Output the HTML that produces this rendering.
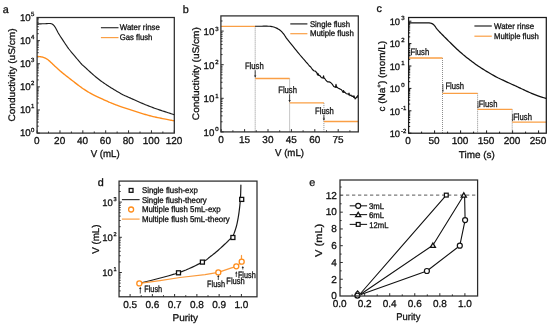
<!DOCTYPE html>
<html><head><meta charset="utf-8"><style>
html,body{margin:0;padding:0;background:#fff;width:550px;height:326px;overflow:hidden;}
svg{filter:blur(0.3px);}
text{font-family:"Liberation Sans", sans-serif;text-rendering:geometricPrecision;stroke:#111;stroke-width:0.3px;}
</style></head><body>
<svg width="550" height="326" viewBox="0 0 550 326" style="display:block">
<g font-family='"Liberation Sans", sans-serif'>
<text x="2.80" y="12.50" font-size="10.8" text-anchor="start" fill="#111" >a</text>
<line x1="37.10" y1="133.10" x2="37.10" y2="130.30" stroke="#2b2b2b" stroke-width="1.0" />
<line x1="48.53" y1="133.10" x2="48.53" y2="131.50" stroke="#2b2b2b" stroke-width="1.0" />
<line x1="59.97" y1="133.10" x2="59.97" y2="130.30" stroke="#2b2b2b" stroke-width="1.0" />
<line x1="71.40" y1="133.10" x2="71.40" y2="131.50" stroke="#2b2b2b" stroke-width="1.0" />
<line x1="82.83" y1="133.10" x2="82.83" y2="130.30" stroke="#2b2b2b" stroke-width="1.0" />
<line x1="94.27" y1="133.10" x2="94.27" y2="131.50" stroke="#2b2b2b" stroke-width="1.0" />
<line x1="105.70" y1="133.10" x2="105.70" y2="130.30" stroke="#2b2b2b" stroke-width="1.0" />
<line x1="117.13" y1="133.10" x2="117.13" y2="131.50" stroke="#2b2b2b" stroke-width="1.0" />
<line x1="128.57" y1="133.10" x2="128.57" y2="130.30" stroke="#2b2b2b" stroke-width="1.0" />
<line x1="140.00" y1="133.10" x2="140.00" y2="131.50" stroke="#2b2b2b" stroke-width="1.0" />
<line x1="151.43" y1="133.10" x2="151.43" y2="130.30" stroke="#2b2b2b" stroke-width="1.0" />
<line x1="162.87" y1="133.10" x2="162.87" y2="131.50" stroke="#2b2b2b" stroke-width="1.0" />
<line x1="174.30" y1="133.10" x2="174.30" y2="130.30" stroke="#2b2b2b" stroke-width="1.0" />
<line x1="37.10" y1="133.10" x2="39.90" y2="133.10" stroke="#2b2b2b" stroke-width="1.0" />
<line x1="37.10" y1="126.14" x2="38.70" y2="126.14" stroke="#2b2b2b" stroke-width="1.0" />
<line x1="37.10" y1="122.07" x2="38.70" y2="122.07" stroke="#2b2b2b" stroke-width="1.0" />
<line x1="37.10" y1="119.18" x2="38.70" y2="119.18" stroke="#2b2b2b" stroke-width="1.0" />
<line x1="37.10" y1="116.94" x2="38.70" y2="116.94" stroke="#2b2b2b" stroke-width="1.0" />
<line x1="37.10" y1="115.11" x2="38.70" y2="115.11" stroke="#2b2b2b" stroke-width="1.0" />
<line x1="37.10" y1="113.56" x2="38.70" y2="113.56" stroke="#2b2b2b" stroke-width="1.0" />
<line x1="37.10" y1="112.22" x2="38.70" y2="112.22" stroke="#2b2b2b" stroke-width="1.0" />
<line x1="37.10" y1="111.04" x2="38.70" y2="111.04" stroke="#2b2b2b" stroke-width="1.0" />
<line x1="37.10" y1="109.98" x2="39.90" y2="109.98" stroke="#2b2b2b" stroke-width="1.0" />
<line x1="37.10" y1="103.02" x2="38.70" y2="103.02" stroke="#2b2b2b" stroke-width="1.0" />
<line x1="37.10" y1="98.95" x2="38.70" y2="98.95" stroke="#2b2b2b" stroke-width="1.0" />
<line x1="37.10" y1="96.06" x2="38.70" y2="96.06" stroke="#2b2b2b" stroke-width="1.0" />
<line x1="37.10" y1="93.82" x2="38.70" y2="93.82" stroke="#2b2b2b" stroke-width="1.0" />
<line x1="37.10" y1="91.99" x2="38.70" y2="91.99" stroke="#2b2b2b" stroke-width="1.0" />
<line x1="37.10" y1="90.44" x2="38.70" y2="90.44" stroke="#2b2b2b" stroke-width="1.0" />
<line x1="37.10" y1="89.10" x2="38.70" y2="89.10" stroke="#2b2b2b" stroke-width="1.0" />
<line x1="37.10" y1="87.92" x2="38.70" y2="87.92" stroke="#2b2b2b" stroke-width="1.0" />
<line x1="37.10" y1="86.86" x2="39.90" y2="86.86" stroke="#2b2b2b" stroke-width="1.0" />
<line x1="37.10" y1="79.90" x2="38.70" y2="79.90" stroke="#2b2b2b" stroke-width="1.0" />
<line x1="37.10" y1="75.83" x2="38.70" y2="75.83" stroke="#2b2b2b" stroke-width="1.0" />
<line x1="37.10" y1="72.94" x2="38.70" y2="72.94" stroke="#2b2b2b" stroke-width="1.0" />
<line x1="37.10" y1="70.70" x2="38.70" y2="70.70" stroke="#2b2b2b" stroke-width="1.0" />
<line x1="37.10" y1="68.87" x2="38.70" y2="68.87" stroke="#2b2b2b" stroke-width="1.0" />
<line x1="37.10" y1="67.32" x2="38.70" y2="67.32" stroke="#2b2b2b" stroke-width="1.0" />
<line x1="37.10" y1="65.98" x2="38.70" y2="65.98" stroke="#2b2b2b" stroke-width="1.0" />
<line x1="37.10" y1="64.80" x2="38.70" y2="64.80" stroke="#2b2b2b" stroke-width="1.0" />
<line x1="37.10" y1="63.74" x2="39.90" y2="63.74" stroke="#2b2b2b" stroke-width="1.0" />
<line x1="37.10" y1="56.78" x2="38.70" y2="56.78" stroke="#2b2b2b" stroke-width="1.0" />
<line x1="37.10" y1="52.71" x2="38.70" y2="52.71" stroke="#2b2b2b" stroke-width="1.0" />
<line x1="37.10" y1="49.82" x2="38.70" y2="49.82" stroke="#2b2b2b" stroke-width="1.0" />
<line x1="37.10" y1="47.58" x2="38.70" y2="47.58" stroke="#2b2b2b" stroke-width="1.0" />
<line x1="37.10" y1="45.75" x2="38.70" y2="45.75" stroke="#2b2b2b" stroke-width="1.0" />
<line x1="37.10" y1="44.20" x2="38.70" y2="44.20" stroke="#2b2b2b" stroke-width="1.0" />
<line x1="37.10" y1="42.86" x2="38.70" y2="42.86" stroke="#2b2b2b" stroke-width="1.0" />
<line x1="37.10" y1="41.68" x2="38.70" y2="41.68" stroke="#2b2b2b" stroke-width="1.0" />
<line x1="37.10" y1="40.62" x2="39.90" y2="40.62" stroke="#2b2b2b" stroke-width="1.0" />
<line x1="37.10" y1="33.66" x2="38.70" y2="33.66" stroke="#2b2b2b" stroke-width="1.0" />
<line x1="37.10" y1="29.59" x2="38.70" y2="29.59" stroke="#2b2b2b" stroke-width="1.0" />
<line x1="37.10" y1="26.70" x2="38.70" y2="26.70" stroke="#2b2b2b" stroke-width="1.0" />
<line x1="37.10" y1="24.46" x2="38.70" y2="24.46" stroke="#2b2b2b" stroke-width="1.0" />
<line x1="37.10" y1="22.63" x2="38.70" y2="22.63" stroke="#2b2b2b" stroke-width="1.0" />
<line x1="37.10" y1="21.08" x2="38.70" y2="21.08" stroke="#2b2b2b" stroke-width="1.0" />
<line x1="37.10" y1="19.74" x2="38.70" y2="19.74" stroke="#2b2b2b" stroke-width="1.0" />
<line x1="37.10" y1="18.56" x2="38.70" y2="18.56" stroke="#2b2b2b" stroke-width="1.0" />
<text x="36.80" y="143.90" font-size="10" text-anchor="middle" fill="#111" >0</text>
<text x="59.67" y="143.90" font-size="10" text-anchor="middle" fill="#111" >20</text>
<text x="82.53" y="143.90" font-size="10" text-anchor="middle" fill="#111" >40</text>
<text x="105.40" y="143.90" font-size="10" text-anchor="middle" fill="#111" >60</text>
<text x="128.27" y="143.90" font-size="10" text-anchor="middle" fill="#111" >80</text>
<text x="151.13" y="143.90" font-size="10" text-anchor="middle" fill="#111" >100</text>
<text x="174.00" y="143.90" font-size="10" text-anchor="middle" fill="#111" >120</text>
<text x="30.70" y="136.20" font-size="9.7" text-anchor="end" fill="#111">10</text>
<text x="31.00" y="131.55" font-size="6.0" text-anchor="start" fill="#111">0</text>
<text x="30.70" y="113.08" font-size="9.7" text-anchor="end" fill="#111">10</text>
<text x="31.00" y="108.43" font-size="6.0" text-anchor="start" fill="#111">1</text>
<text x="30.70" y="89.96" font-size="9.7" text-anchor="end" fill="#111">10</text>
<text x="31.00" y="85.31" font-size="6.0" text-anchor="start" fill="#111">2</text>
<text x="30.70" y="66.84" font-size="9.7" text-anchor="end" fill="#111">10</text>
<text x="31.00" y="62.19" font-size="6.0" text-anchor="start" fill="#111">3</text>
<text x="30.70" y="43.72" font-size="9.7" text-anchor="end" fill="#111">10</text>
<text x="31.00" y="39.07" font-size="6.0" text-anchor="start" fill="#111">4</text>
<text x="30.70" y="20.60" font-size="9.7" text-anchor="end" fill="#111">10</text>
<text x="31.00" y="15.95" font-size="6.0" text-anchor="start" fill="#111">5</text>
<text x="0.00" y="0.00" font-size="9.5" text-anchor="middle" fill="#111" textLength="93.1" lengthAdjust="spacingAndGlyphs" transform="translate(15.1,75.0) rotate(-90)">Conductivity (uS/cm)</text>
<text x="105.20" y="157.00" font-size="9.8" text-anchor="middle" fill="#111" textLength="29.0" lengthAdjust="spacingAndGlyphs" >V (mL)</text>
<polyline points="37.60,23.90 38.19,23.88 38.99,23.86 39.94,23.84 40.99,23.81 42.08,23.78 43.15,23.75 44.14,23.73 45.00,23.70 45.75,23.67 46.47,23.62 47.15,23.57 47.79,23.53 48.39,23.49 48.96,23.47 49.50,23.47 50.00,23.50 50.46,23.55 50.86,23.62 51.22,23.69 51.55,23.79 51.86,23.92 52.17,24.07 52.47,24.27 52.80,24.50 53.13,24.77 53.45,25.05 53.75,25.37 54.06,25.72 54.38,26.11 54.70,26.55 55.04,27.05 55.40,27.60 55.78,28.22 56.16,28.92 56.55,29.67 56.95,30.46 57.37,31.29 57.82,32.15 58.29,33.02 58.80,33.90 59.35,34.80 59.94,35.73 60.55,36.70 61.19,37.68 61.85,38.67 62.51,39.66 63.16,40.64 63.80,41.60 64.42,42.53 65.03,43.45 65.63,44.37 66.24,45.27 66.87,46.19 67.51,47.11 68.19,48.04 68.90,49.00 69.67,49.99 70.48,51.00 71.33,52.04 72.20,53.08 73.08,54.12 73.94,55.14 74.79,56.14 75.60,57.10 76.39,58.05 77.19,59.00 77.98,59.94 78.75,60.86 79.50,61.74 80.21,62.56 80.88,63.32 81.50,64.00 82.02,64.55 82.45,64.97 82.80,65.30 83.14,65.59 83.49,65.88 83.89,66.21 84.38,66.64 85.00,67.20 85.76,67.91 86.63,68.72 87.58,69.62 88.59,70.56 89.64,71.53 90.68,72.50 91.71,73.43 92.70,74.30 93.65,75.12 94.60,75.93 95.55,76.73 96.50,77.51 97.45,78.28 98.40,79.03 99.35,79.77 100.30,80.50 101.26,81.21 102.22,81.90 103.18,82.58 104.14,83.24 105.11,83.89 106.07,84.53 107.04,85.17 108.00,85.80 108.96,86.43 109.93,87.05 110.89,87.66 111.86,88.26 112.82,88.86 113.78,89.45 114.74,90.03 115.70,90.60 116.66,91.17 117.63,91.74 118.60,92.31 119.56,92.86 120.52,93.40 121.47,93.93 122.39,94.43 123.30,94.90 124.14,95.32 124.91,95.68 125.63,96.01 126.36,96.33 127.12,96.65 127.95,97.00 128.90,97.41 130.00,97.90 131.27,98.47 132.68,99.12 134.21,99.81 135.81,100.54 137.45,101.28 139.10,102.02 140.73,102.73 142.30,103.40 143.83,104.04 145.35,104.67 146.88,105.28 148.40,105.89 149.92,106.48 151.45,107.07 152.97,107.64 154.50,108.20 156.07,108.76 157.69,109.32 159.33,109.87 160.96,110.41 162.56,110.93 164.08,111.42 165.51,111.88 166.80,112.30 167.99,112.69 169.13,113.06 170.19,113.40 171.17,113.71 172.05,113.99 172.83,114.23 173.48,114.43 174.00,114.60" fill="none" stroke="#1e1e1e" stroke-width="1.15" stroke-linejoin="round" stroke-linecap="round" />
<polyline points="37.60,56.40 37.99,56.45 38.51,56.50 39.13,56.56 39.82,56.64 40.55,56.73 41.29,56.85 42.02,57.01 42.70,57.20 43.34,57.41 43.97,57.63 44.60,57.88 45.24,58.15 45.89,58.47 46.56,58.84 47.26,59.28 48.00,59.80 48.78,60.42 49.59,61.12 50.44,61.90 51.30,62.74 52.18,63.60 53.08,64.48 53.99,65.35 54.90,66.20 55.81,67.03 56.73,67.86 57.66,68.70 58.61,69.55 59.57,70.40 60.55,71.26 61.56,72.13 62.60,73.00 63.69,73.89 64.83,74.80 66.00,75.72 67.19,76.65 68.39,77.57 69.56,78.47 70.71,79.35 71.80,80.20 72.85,81.02 73.89,81.83 74.90,82.62 75.89,83.39 76.86,84.13 77.80,84.85 78.72,85.54 79.60,86.20 80.44,86.81 81.24,87.39 82.00,87.93 82.74,88.44 83.47,88.94 84.20,89.43 84.94,89.91 85.70,90.40 86.46,90.88 87.21,91.35 87.96,91.81 88.71,92.26 89.48,92.71 90.28,93.17 91.12,93.63 92.00,94.10 92.93,94.58 93.90,95.07 94.90,95.56 95.94,96.06 97.00,96.56 98.08,97.06 99.18,97.58 100.30,98.10 101.46,98.64 102.67,99.20 103.91,99.78 105.17,100.36 106.43,100.93 107.66,101.48 108.86,102.01 110.00,102.50 111.05,102.94 112.03,103.34 112.95,103.71 113.86,104.07 114.78,104.42 115.76,104.79 116.82,105.17 118.00,105.60 119.31,106.07 120.71,106.56 122.19,107.07 123.73,107.60 125.30,108.13 126.89,108.67 128.46,109.19 130.00,109.70 131.52,110.20 133.06,110.70 134.59,111.20 136.14,111.70 137.68,112.19 139.23,112.67 140.77,113.14 142.30,113.60 143.83,114.05 145.35,114.49 146.88,114.92 148.40,115.34 149.92,115.75 151.45,116.15 152.97,116.53 154.50,116.90 156.07,117.26 157.69,117.61 159.33,117.94 160.96,118.27 162.56,118.58 164.08,118.87 165.51,119.15 166.80,119.40 167.99,119.64 169.13,119.86 170.19,120.07 171.17,120.26 172.05,120.43 172.83,120.57 173.48,120.70 174.00,120.80" fill="none" stroke="#ff8c1a" stroke-width="1.35" stroke-linejoin="round" stroke-linecap="round" />
<rect x="37.10" y="17.50" width="137.20" height="115.60" fill="none" stroke="#2b2b2b" stroke-width="1.25"/>
<line x1="100.90" y1="27.70" x2="118.50" y2="27.70" stroke="#333" stroke-width="1.2" />
<text x="119.80" y="30.30" font-size="8.3" text-anchor="start" fill="#111" textLength="40.1" lengthAdjust="spacingAndGlyphs" >Water rinse</text>
<line x1="100.90" y1="37.60" x2="118.50" y2="37.60" stroke="#fa9f45" stroke-width="1.2" />
<text x="119.80" y="40.30" font-size="8.3" text-anchor="start" fill="#111" textLength="32.5" lengthAdjust="spacingAndGlyphs" >Gas flush</text>
<text x="182.80" y="12.60" font-size="10.8" text-anchor="start" fill="#111" >b</text>
<line x1="221.20" y1="131.90" x2="221.20" y2="129.10" stroke="#2b2b2b" stroke-width="1.0" />
<line x1="232.90" y1="131.90" x2="232.90" y2="130.30" stroke="#2b2b2b" stroke-width="1.0" />
<line x1="244.60" y1="131.90" x2="244.60" y2="129.10" stroke="#2b2b2b" stroke-width="1.0" />
<line x1="256.30" y1="131.90" x2="256.30" y2="130.30" stroke="#2b2b2b" stroke-width="1.0" />
<line x1="268.00" y1="131.90" x2="268.00" y2="129.10" stroke="#2b2b2b" stroke-width="1.0" />
<line x1="279.70" y1="131.90" x2="279.70" y2="130.30" stroke="#2b2b2b" stroke-width="1.0" />
<line x1="291.40" y1="131.90" x2="291.40" y2="129.10" stroke="#2b2b2b" stroke-width="1.0" />
<line x1="303.10" y1="131.90" x2="303.10" y2="130.30" stroke="#2b2b2b" stroke-width="1.0" />
<line x1="314.80" y1="131.90" x2="314.80" y2="129.10" stroke="#2b2b2b" stroke-width="1.0" />
<line x1="326.50" y1="131.90" x2="326.50" y2="130.30" stroke="#2b2b2b" stroke-width="1.0" />
<line x1="338.20" y1="131.90" x2="338.20" y2="129.10" stroke="#2b2b2b" stroke-width="1.0" />
<line x1="349.90" y1="131.90" x2="349.90" y2="130.30" stroke="#2b2b2b" stroke-width="1.0" />
<line x1="220.90" y1="131.90" x2="223.70" y2="131.90" stroke="#2b2b2b" stroke-width="1.0" />
<line x1="220.90" y1="121.79" x2="222.50" y2="121.79" stroke="#2b2b2b" stroke-width="1.0" />
<line x1="220.90" y1="115.87" x2="222.50" y2="115.87" stroke="#2b2b2b" stroke-width="1.0" />
<line x1="220.90" y1="111.67" x2="222.50" y2="111.67" stroke="#2b2b2b" stroke-width="1.0" />
<line x1="220.90" y1="108.41" x2="222.50" y2="108.41" stroke="#2b2b2b" stroke-width="1.0" />
<line x1="220.90" y1="105.75" x2="222.50" y2="105.75" stroke="#2b2b2b" stroke-width="1.0" />
<line x1="220.90" y1="103.50" x2="222.50" y2="103.50" stroke="#2b2b2b" stroke-width="1.0" />
<line x1="220.90" y1="101.56" x2="222.50" y2="101.56" stroke="#2b2b2b" stroke-width="1.0" />
<line x1="220.90" y1="99.84" x2="222.50" y2="99.84" stroke="#2b2b2b" stroke-width="1.0" />
<line x1="220.90" y1="98.30" x2="223.70" y2="98.30" stroke="#2b2b2b" stroke-width="1.0" />
<line x1="220.90" y1="88.19" x2="222.50" y2="88.19" stroke="#2b2b2b" stroke-width="1.0" />
<line x1="220.90" y1="82.27" x2="222.50" y2="82.27" stroke="#2b2b2b" stroke-width="1.0" />
<line x1="220.90" y1="78.07" x2="222.50" y2="78.07" stroke="#2b2b2b" stroke-width="1.0" />
<line x1="220.90" y1="74.81" x2="222.50" y2="74.81" stroke="#2b2b2b" stroke-width="1.0" />
<line x1="220.90" y1="72.15" x2="222.50" y2="72.15" stroke="#2b2b2b" stroke-width="1.0" />
<line x1="220.90" y1="69.90" x2="222.50" y2="69.90" stroke="#2b2b2b" stroke-width="1.0" />
<line x1="220.90" y1="67.96" x2="222.50" y2="67.96" stroke="#2b2b2b" stroke-width="1.0" />
<line x1="220.90" y1="66.24" x2="222.50" y2="66.24" stroke="#2b2b2b" stroke-width="1.0" />
<line x1="220.90" y1="64.70" x2="223.70" y2="64.70" stroke="#2b2b2b" stroke-width="1.0" />
<line x1="220.90" y1="54.59" x2="222.50" y2="54.59" stroke="#2b2b2b" stroke-width="1.0" />
<line x1="220.90" y1="48.67" x2="222.50" y2="48.67" stroke="#2b2b2b" stroke-width="1.0" />
<line x1="220.90" y1="44.47" x2="222.50" y2="44.47" stroke="#2b2b2b" stroke-width="1.0" />
<line x1="220.90" y1="41.21" x2="222.50" y2="41.21" stroke="#2b2b2b" stroke-width="1.0" />
<line x1="220.90" y1="38.55" x2="222.50" y2="38.55" stroke="#2b2b2b" stroke-width="1.0" />
<line x1="220.90" y1="36.30" x2="222.50" y2="36.30" stroke="#2b2b2b" stroke-width="1.0" />
<line x1="220.90" y1="34.36" x2="222.50" y2="34.36" stroke="#2b2b2b" stroke-width="1.0" />
<line x1="220.90" y1="32.64" x2="222.50" y2="32.64" stroke="#2b2b2b" stroke-width="1.0" />
<line x1="220.90" y1="31.10" x2="223.70" y2="31.10" stroke="#2b2b2b" stroke-width="1.0" />
<line x1="220.90" y1="20.99" x2="222.50" y2="20.99" stroke="#2b2b2b" stroke-width="1.0" />
<text x="221.10" y="143.10" font-size="10" text-anchor="middle" fill="#111" >0</text>
<text x="244.50" y="143.10" font-size="10" text-anchor="middle" fill="#111" >15</text>
<text x="267.90" y="143.10" font-size="10" text-anchor="middle" fill="#111" >30</text>
<text x="291.30" y="143.10" font-size="10" text-anchor="middle" fill="#111" >45</text>
<text x="314.70" y="143.10" font-size="10" text-anchor="middle" fill="#111" >60</text>
<text x="338.10" y="143.10" font-size="10" text-anchor="middle" fill="#111" >75</text>
<text x="214.30" y="135.80" font-size="9.7" text-anchor="end" fill="#111">10</text>
<text x="215.20" y="131.40" font-size="6.0" text-anchor="start" fill="#111">0</text>
<text x="214.30" y="102.20" font-size="9.7" text-anchor="end" fill="#111">10</text>
<text x="215.20" y="97.80" font-size="6.0" text-anchor="start" fill="#111">1</text>
<text x="214.30" y="68.60" font-size="9.7" text-anchor="end" fill="#111">10</text>
<text x="215.20" y="64.20" font-size="6.0" text-anchor="start" fill="#111">2</text>
<text x="214.30" y="35.00" font-size="9.7" text-anchor="end" fill="#111">10</text>
<text x="215.20" y="30.60" font-size="6.0" text-anchor="start" fill="#111">3</text>
<text x="0.00" y="0.00" font-size="9.5" text-anchor="middle" fill="#111" textLength="93.0" lengthAdjust="spacingAndGlyphs" transform="translate(199.1,73.65) rotate(-90)">Conductivity (uS/cm)</text>
<text x="289.50" y="156.00" font-size="9.8" text-anchor="middle" fill="#111" textLength="29.0" lengthAdjust="spacingAndGlyphs" >V (mL)</text>
<line x1="255.20" y1="26.40" x2="255.20" y2="131.90" stroke="#707070" stroke-width="0.8" stroke-dasharray="1,1"/>
<line x1="289.60" y1="78.50" x2="289.60" y2="131.90" stroke="#707070" stroke-width="0.8" stroke-dasharray="1,1"/>
<line x1="323.90" y1="102.90" x2="323.90" y2="131.90" stroke="#707070" stroke-width="0.8" stroke-dasharray="1,1"/>
<polyline points="255.20,26.30 256.11,26.28 257.39,26.26 258.89,26.23 260.47,26.21 262.00,26.20 263.53,26.19 265.15,26.18 266.78,26.19 268.32,26.22 269.70,26.30 270.86,26.42 271.86,26.56 272.77,26.75 273.66,26.99 274.60,27.30 275.60,27.68 276.61,28.12 277.61,28.63 278.58,29.19 279.50,29.80 280.34,30.46 281.13,31.17 281.88,31.94 282.63,32.78 283.40,33.70 284.15,34.68 284.86,35.72 285.59,36.84 286.42,38.06 287.40,39.40 288.60,40.93 289.97,42.62 291.42,44.40 292.86,46.15 294.20,47.80 295.39,49.29 296.50,50.69 297.59,52.06 298.73,53.48 300.00,55.00 301.42,56.67 302.95,58.42 304.54,60.15 306.14,62.18 307.70,63.74 309.22,65.73 310.74,67.04 312.26,69.24 313.78,70.74 315.30,71.14 316.83,72.74 317.50,74.84 318.00,73.54 318.60,74.94 318.37,75.12 319.92,75.61 321.46,77.77 323.00,77.79 323.00,78.25 323.50,75.75 324.10,78.35 324.54,78.28 326.08,80.48 327.63,81.84 329.17,81.88 330.70,82.57 332.22,84.14 333.74,86.49 335.26,87.15 335.50,87.34 336.00,84.44 336.60,87.44 336.78,86.92 338.30,88.19 339.86,88.89 341.45,89.79 343.04,92.21 343.00,92.40 343.50,90.50 344.10,92.50 344.57,91.86 346.00,93.42 347.35,93.90 348.66,94.02 348.50,94.78 349.00,93.08 349.60,94.88 349.88,95.66 351.01,94.98 352.00,96.49 352.83,95.93 353.50,97.03 353.50,97.34 354.00,95.84 354.60,97.44 354.08,97.05 354.63,97.45 355.20,98.94 355.83,98.39 356.48,96.91 357.10,97.48 357.63,95.58 358.00,95.59" fill="none" stroke="#111" stroke-width="1.15" stroke-linejoin="round" stroke-linecap="round" />
<line x1="220.90" y1="26.40" x2="255.20" y2="26.40" stroke="#fa9f45" stroke-width="1.35" />
<line x1="255.20" y1="78.50" x2="289.60" y2="78.50" stroke="#fa9f45" stroke-width="1.35" />
<line x1="289.60" y1="102.90" x2="323.90" y2="102.90" stroke="#fa9f45" stroke-width="1.35" />
<line x1="323.90" y1="121.50" x2="358.30" y2="121.50" stroke="#fa9f45" stroke-width="1.35" />
<text x="254.30" y="68.60" font-size="9.3" text-anchor="middle" fill="#111" textLength="18.8" lengthAdjust="spacingAndGlyphs" >Flush</text>
<line x1="255.20" y1="70.30" x2="255.20" y2="76.04" stroke="#222" stroke-width="0.8" />
<path d="M254.05,75.60 L256.35,75.60 L255.20,77.80 Z" fill="#222"/>
<text x="287.60" y="92.90" font-size="9.3" text-anchor="middle" fill="#111" textLength="18.8" lengthAdjust="spacingAndGlyphs" >Flush</text>
<line x1="289.60" y1="94.30" x2="289.60" y2="100.44" stroke="#222" stroke-width="0.8" />
<path d="M288.45,100.00 L290.75,100.00 L289.60,102.20 Z" fill="#222"/>
<text x="324.40" y="114.00" font-size="9.3" text-anchor="middle" fill="#111" textLength="18.8" lengthAdjust="spacingAndGlyphs" >Flush</text>
<line x1="323.90" y1="115.30" x2="323.90" y2="119.04" stroke="#222" stroke-width="0.8" />
<path d="M322.75,118.60 L325.05,118.60 L323.90,120.80 Z" fill="#222"/>
<rect x="220.90" y="15.90" width="137.40" height="116.00" fill="none" stroke="#2b2b2b" stroke-width="1.25"/>
<line x1="290.30" y1="23.90" x2="307.40" y2="23.90" stroke="#333" stroke-width="1.3" />
<text x="309.90" y="26.80" font-size="8.3" text-anchor="start" fill="#111" textLength="40.2" lengthAdjust="spacingAndGlyphs" >Single flush</text>
<line x1="290.30" y1="33.70" x2="307.40" y2="33.70" stroke="#fa9f45" stroke-width="1.2" />
<text x="309.90" y="36.30" font-size="8.3" text-anchor="start" fill="#111" textLength="44" lengthAdjust="spacingAndGlyphs" >Mutiple flush</text>
<text x="376.60" y="11.80" font-size="10.8" text-anchor="start" fill="#111" >c</text>
<line x1="408.60" y1="133.20" x2="408.60" y2="130.40" stroke="#111" stroke-width="1.0" />
<line x1="421.60" y1="133.20" x2="421.60" y2="131.60" stroke="#111" stroke-width="1.0" />
<line x1="434.60" y1="133.20" x2="434.60" y2="130.40" stroke="#111" stroke-width="1.0" />
<line x1="447.60" y1="133.20" x2="447.60" y2="131.60" stroke="#111" stroke-width="1.0" />
<line x1="460.60" y1="133.20" x2="460.60" y2="130.40" stroke="#111" stroke-width="1.0" />
<line x1="473.60" y1="133.20" x2="473.60" y2="131.60" stroke="#111" stroke-width="1.0" />
<line x1="486.60" y1="133.20" x2="486.60" y2="130.40" stroke="#111" stroke-width="1.0" />
<line x1="499.60" y1="133.20" x2="499.60" y2="131.60" stroke="#111" stroke-width="1.0" />
<line x1="512.60" y1="133.20" x2="512.60" y2="130.40" stroke="#111" stroke-width="1.0" />
<line x1="525.60" y1="133.20" x2="525.60" y2="131.60" stroke="#111" stroke-width="1.0" />
<line x1="538.60" y1="133.20" x2="538.60" y2="130.40" stroke="#111" stroke-width="1.0" />
<line x1="408.60" y1="133.20" x2="411.40" y2="133.20" stroke="#111" stroke-width="1.0" />
<line x1="408.60" y1="126.46" x2="410.20" y2="126.46" stroke="#111" stroke-width="1.0" />
<line x1="408.60" y1="122.51" x2="410.20" y2="122.51" stroke="#111" stroke-width="1.0" />
<line x1="408.60" y1="119.71" x2="410.20" y2="119.71" stroke="#111" stroke-width="1.0" />
<line x1="408.60" y1="117.54" x2="410.20" y2="117.54" stroke="#111" stroke-width="1.0" />
<line x1="408.60" y1="115.77" x2="410.20" y2="115.77" stroke="#111" stroke-width="1.0" />
<line x1="408.60" y1="114.27" x2="410.20" y2="114.27" stroke="#111" stroke-width="1.0" />
<line x1="408.60" y1="112.97" x2="410.20" y2="112.97" stroke="#111" stroke-width="1.0" />
<line x1="408.60" y1="111.82" x2="410.20" y2="111.82" stroke="#111" stroke-width="1.0" />
<line x1="408.60" y1="110.80" x2="411.40" y2="110.80" stroke="#111" stroke-width="1.0" />
<line x1="408.60" y1="104.06" x2="410.20" y2="104.06" stroke="#111" stroke-width="1.0" />
<line x1="408.60" y1="100.11" x2="410.20" y2="100.11" stroke="#111" stroke-width="1.0" />
<line x1="408.60" y1="97.31" x2="410.20" y2="97.31" stroke="#111" stroke-width="1.0" />
<line x1="408.60" y1="95.14" x2="410.20" y2="95.14" stroke="#111" stroke-width="1.0" />
<line x1="408.60" y1="93.37" x2="410.20" y2="93.37" stroke="#111" stroke-width="1.0" />
<line x1="408.60" y1="91.87" x2="410.20" y2="91.87" stroke="#111" stroke-width="1.0" />
<line x1="408.60" y1="90.57" x2="410.20" y2="90.57" stroke="#111" stroke-width="1.0" />
<line x1="408.60" y1="89.42" x2="410.20" y2="89.42" stroke="#111" stroke-width="1.0" />
<line x1="408.60" y1="88.40" x2="411.40" y2="88.40" stroke="#111" stroke-width="1.0" />
<line x1="408.60" y1="81.66" x2="410.20" y2="81.66" stroke="#111" stroke-width="1.0" />
<line x1="408.60" y1="77.71" x2="410.20" y2="77.71" stroke="#111" stroke-width="1.0" />
<line x1="408.60" y1="74.91" x2="410.20" y2="74.91" stroke="#111" stroke-width="1.0" />
<line x1="408.60" y1="72.74" x2="410.20" y2="72.74" stroke="#111" stroke-width="1.0" />
<line x1="408.60" y1="70.97" x2="410.20" y2="70.97" stroke="#111" stroke-width="1.0" />
<line x1="408.60" y1="69.47" x2="410.20" y2="69.47" stroke="#111" stroke-width="1.0" />
<line x1="408.60" y1="68.17" x2="410.20" y2="68.17" stroke="#111" stroke-width="1.0" />
<line x1="408.60" y1="67.02" x2="410.20" y2="67.02" stroke="#111" stroke-width="1.0" />
<line x1="408.60" y1="66.00" x2="411.40" y2="66.00" stroke="#111" stroke-width="1.0" />
<line x1="408.60" y1="59.26" x2="410.20" y2="59.26" stroke="#111" stroke-width="1.0" />
<line x1="408.60" y1="55.31" x2="410.20" y2="55.31" stroke="#111" stroke-width="1.0" />
<line x1="408.60" y1="52.51" x2="410.20" y2="52.51" stroke="#111" stroke-width="1.0" />
<line x1="408.60" y1="50.34" x2="410.20" y2="50.34" stroke="#111" stroke-width="1.0" />
<line x1="408.60" y1="48.57" x2="410.20" y2="48.57" stroke="#111" stroke-width="1.0" />
<line x1="408.60" y1="47.07" x2="410.20" y2="47.07" stroke="#111" stroke-width="1.0" />
<line x1="408.60" y1="45.77" x2="410.20" y2="45.77" stroke="#111" stroke-width="1.0" />
<line x1="408.60" y1="44.62" x2="410.20" y2="44.62" stroke="#111" stroke-width="1.0" />
<line x1="408.60" y1="43.60" x2="411.40" y2="43.60" stroke="#111" stroke-width="1.0" />
<line x1="408.60" y1="36.86" x2="410.20" y2="36.86" stroke="#111" stroke-width="1.0" />
<line x1="408.60" y1="32.91" x2="410.20" y2="32.91" stroke="#111" stroke-width="1.0" />
<line x1="408.60" y1="30.11" x2="410.20" y2="30.11" stroke="#111" stroke-width="1.0" />
<line x1="408.60" y1="27.94" x2="410.20" y2="27.94" stroke="#111" stroke-width="1.0" />
<line x1="408.60" y1="26.17" x2="410.20" y2="26.17" stroke="#111" stroke-width="1.0" />
<line x1="408.60" y1="24.67" x2="410.20" y2="24.67" stroke="#111" stroke-width="1.0" />
<line x1="408.60" y1="23.37" x2="410.20" y2="23.37" stroke="#111" stroke-width="1.0" />
<line x1="408.60" y1="22.22" x2="410.20" y2="22.22" stroke="#111" stroke-width="1.0" />
<line x1="408.60" y1="21.20" x2="411.40" y2="21.20" stroke="#111" stroke-width="1.0" />
<text x="408.10" y="143.60" font-size="10" text-anchor="middle" fill="#111" >0</text>
<text x="434.10" y="143.60" font-size="10" text-anchor="middle" fill="#111" >50</text>
<text x="460.10" y="143.60" font-size="10" text-anchor="middle" fill="#111" >100</text>
<text x="486.10" y="143.60" font-size="10" text-anchor="middle" fill="#111" >150</text>
<text x="512.10" y="143.60" font-size="10" text-anchor="middle" fill="#111" >200</text>
<text x="538.10" y="143.60" font-size="10" text-anchor="middle" fill="#111" >250</text>
<text x="400.10" y="24.70" font-size="9.4" text-anchor="end" fill="#111">10</text>
<text x="401.30" y="20.00" font-size="6.0" text-anchor="start" fill="#111">3</text>
<text x="400.10" y="47.10" font-size="9.4" text-anchor="end" fill="#111">10</text>
<text x="401.30" y="42.40" font-size="6.0" text-anchor="start" fill="#111">2</text>
<text x="400.10" y="69.50" font-size="9.4" text-anchor="end" fill="#111">10</text>
<text x="401.30" y="64.80" font-size="6.0" text-anchor="start" fill="#111">1</text>
<text x="400.10" y="91.90" font-size="9.4" text-anchor="end" fill="#111">10</text>
<text x="401.30" y="87.20" font-size="6.0" text-anchor="start" fill="#111">0</text>
<text x="400.10" y="115.00" font-size="9.4" text-anchor="end" fill="#111">10</text>
<text x="401.10" y="110.20" font-size="6.0" text-anchor="start" fill="#111">-1</text>
<text x="400.10" y="137.40" font-size="9.4" text-anchor="end" fill="#111">10</text>
<text x="401.10" y="132.60" font-size="6.0" text-anchor="start" fill="#111">-2</text>
<text transform="translate(385.2,76.2) rotate(-90)" font-size="9.5" text-anchor="middle" fill="#111" textLength="70.6" lengthAdjust="spacingAndGlyphs">c (Na<tspan font-size="6" dy="-4">+</tspan><tspan dy="4">) (mom/L)</tspan></text>
<text x="476.80" y="157.60" font-size="9.8" text-anchor="middle" fill="#111" textLength="36.0" lengthAdjust="spacingAndGlyphs" >Time (s)</text>
<line x1="442.50" y1="58.00" x2="442.50" y2="133.20" stroke="#707070" stroke-width="0.8" stroke-dasharray="1,1"/>
<line x1="477.60" y1="93.30" x2="477.60" y2="133.20" stroke="#707070" stroke-width="0.8" stroke-dasharray="1,1"/>
<line x1="512.20" y1="109.40" x2="512.20" y2="133.20" stroke="#707070" stroke-width="0.8" stroke-dasharray="1,1"/>
<polyline points="409.20,22.80 410.40,22.80 412.09,22.80 414.07,22.79 416.17,22.79 418.21,22.79 420.00,22.80 421.61,22.80 423.19,22.80 424.71,22.81 426.12,22.82 427.40,22.85 428.50,22.90 429.38,22.97 430.07,23.04 430.62,23.13 431.09,23.25 431.53,23.40 432.00,23.60 432.47,23.84 432.90,24.10 433.29,24.41 433.68,24.75 434.08,25.15 434.50,25.60 434.91,26.10 435.29,26.64 435.68,27.23 436.11,27.87 436.64,28.60 437.30,29.40 438.13,30.32 439.09,31.35 440.14,32.46 441.24,33.59 442.35,34.72 443.40,35.80 444.40,36.82 445.38,37.81 446.36,38.79 447.36,39.79 448.40,40.82 449.50,41.90 450.67,43.06 451.90,44.28 453.17,45.53 454.46,46.79 455.75,48.02 457.00,49.20 458.24,50.33 459.47,51.44 460.70,52.53 461.92,53.59 463.12,54.61 464.30,55.60 465.44,56.53 466.55,57.41 467.64,58.26 468.74,59.10 469.85,59.94 471.00,60.80 472.18,61.69 473.37,62.59 474.58,63.49 475.82,64.39 477.09,65.30 478.40,66.20 479.75,67.10 481.13,67.99 482.55,68.89 484.00,69.79 485.48,70.69 487.00,71.60 488.57,72.54 490.20,73.50 491.86,74.46 493.53,75.41 495.19,76.33 496.80,77.20 498.37,78.01 499.91,78.76 501.44,79.49 502.96,80.19 504.47,80.89 506.00,81.60 507.55,82.32 509.13,83.04 510.71,83.76 512.26,84.46 513.77,85.14 515.20,85.80 516.55,86.42 517.82,87.02 519.05,87.59 520.26,88.16 521.46,88.72 522.70,89.30 523.96,89.89 525.22,90.49 526.49,91.08 527.76,91.67 529.03,92.25 530.30,92.80 531.57,93.33 532.85,93.85 534.12,94.36 535.41,94.85 536.70,95.33 538.00,95.80 539.41,96.29 540.94,96.79 542.48,97.29 543.91,97.74 545.13,98.12 546.00,98.40" fill="none" stroke="#111" stroke-width="1.25" stroke-linejoin="round" stroke-linecap="round" />
<line x1="408.60" y1="58.00" x2="442.50" y2="58.00" stroke="#fa9f45" stroke-width="1.35" />
<line x1="442.50" y1="93.30" x2="477.60" y2="93.30" stroke="#fa9f45" stroke-width="1.35" />
<line x1="477.60" y1="109.40" x2="512.20" y2="109.40" stroke="#fa9f45" stroke-width="1.35" />
<line x1="512.20" y1="122.10" x2="546.30" y2="122.10" stroke="#fa9f45" stroke-width="1.35" />
<text x="410.50" y="55.20" font-size="9.3" text-anchor="start" fill="#111" textLength="18.7" lengthAdjust="spacingAndGlyphs" >Flush</text>
<text x="445.40" y="89.00" font-size="9.3" text-anchor="start" fill="#111" textLength="18.7" lengthAdjust="spacingAndGlyphs" >Flush</text>
<text x="478.70" y="107.40" font-size="9.3" text-anchor="start" fill="#111" textLength="18.7" lengthAdjust="spacingAndGlyphs" >Flush</text>
<text x="513.20" y="120.00" font-size="9.3" text-anchor="start" fill="#111" textLength="18.7" lengthAdjust="spacingAndGlyphs" >Flush</text>
<line x1="409.80" y1="50.50" x2="409.80" y2="55.56" stroke="#222" stroke-width="0.7" />
<path d="M408.90,55.20 L410.70,55.20 L409.80,57.00 Z" fill="#222"/>
<line x1="442.90" y1="84.00" x2="442.90" y2="90.76" stroke="#222" stroke-width="0.7" />
<path d="M442.00,90.40 L443.80,90.40 L442.90,92.20 Z" fill="#222"/>
<line x1="478.00" y1="101.00" x2="478.00" y2="107.06" stroke="#222" stroke-width="0.7" />
<path d="M477.10,106.70 L478.90,106.70 L478.00,108.50 Z" fill="#222"/>
<line x1="512.60" y1="114.00" x2="512.60" y2="119.76" stroke="#222" stroke-width="0.7" />
<path d="M511.70,119.40 L513.50,119.40 L512.60,121.20 Z" fill="#222"/>
<rect x="408.60" y="17.50" width="137.70" height="115.70" fill="none" stroke="#1a1a1a" stroke-width="1.25"/>
<line x1="474.40" y1="26.00" x2="491.80" y2="26.00" stroke="#333" stroke-width="1.3" />
<text x="494.00" y="29.00" font-size="8.3" text-anchor="start" fill="#111" textLength="40.2" lengthAdjust="spacingAndGlyphs" >Water rinse</text>
<line x1="474.40" y1="36.20" x2="491.80" y2="36.20" stroke="#fa9f45" stroke-width="1.2" />
<text x="494.00" y="39.00" font-size="8.3" text-anchor="start" fill="#111" textLength="44.8" lengthAdjust="spacingAndGlyphs" >Multiple flush</text>
<text x="97.80" y="185.70" font-size="10.8" text-anchor="start" fill="#111" >d</text>
<line x1="130.10" y1="296.80" x2="130.10" y2="294.00" stroke="#2b2b2b" stroke-width="1.0" />
<line x1="141.23" y1="296.80" x2="141.23" y2="295.20" stroke="#2b2b2b" stroke-width="1.0" />
<line x1="152.36" y1="296.80" x2="152.36" y2="294.00" stroke="#2b2b2b" stroke-width="1.0" />
<line x1="163.49" y1="296.80" x2="163.49" y2="295.20" stroke="#2b2b2b" stroke-width="1.0" />
<line x1="174.62" y1="296.80" x2="174.62" y2="294.00" stroke="#2b2b2b" stroke-width="1.0" />
<line x1="185.75" y1="296.80" x2="185.75" y2="295.20" stroke="#2b2b2b" stroke-width="1.0" />
<line x1="196.88" y1="296.80" x2="196.88" y2="294.00" stroke="#2b2b2b" stroke-width="1.0" />
<line x1="208.01" y1="296.80" x2="208.01" y2="295.20" stroke="#2b2b2b" stroke-width="1.0" />
<line x1="219.14" y1="296.80" x2="219.14" y2="294.00" stroke="#2b2b2b" stroke-width="1.0" />
<line x1="230.27" y1="296.80" x2="230.27" y2="295.20" stroke="#2b2b2b" stroke-width="1.0" />
<line x1="241.40" y1="296.80" x2="241.40" y2="294.00" stroke="#2b2b2b" stroke-width="1.0" />
<line x1="119.05" y1="290.91" x2="120.65" y2="290.91" stroke="#2b2b2b" stroke-width="1.0" />
<line x1="119.05" y1="286.51" x2="120.65" y2="286.51" stroke="#2b2b2b" stroke-width="1.0" />
<line x1="119.05" y1="283.10" x2="120.65" y2="283.10" stroke="#2b2b2b" stroke-width="1.0" />
<line x1="119.05" y1="280.31" x2="120.65" y2="280.31" stroke="#2b2b2b" stroke-width="1.0" />
<line x1="119.05" y1="277.95" x2="120.65" y2="277.95" stroke="#2b2b2b" stroke-width="1.0" />
<line x1="119.05" y1="275.91" x2="120.65" y2="275.91" stroke="#2b2b2b" stroke-width="1.0" />
<line x1="119.05" y1="274.11" x2="120.65" y2="274.11" stroke="#2b2b2b" stroke-width="1.0" />
<line x1="119.05" y1="272.50" x2="121.85" y2="272.50" stroke="#2b2b2b" stroke-width="1.0" />
<line x1="119.05" y1="261.90" x2="120.65" y2="261.90" stroke="#2b2b2b" stroke-width="1.0" />
<line x1="119.05" y1="255.71" x2="120.65" y2="255.71" stroke="#2b2b2b" stroke-width="1.0" />
<line x1="119.05" y1="251.31" x2="120.65" y2="251.31" stroke="#2b2b2b" stroke-width="1.0" />
<line x1="119.05" y1="247.90" x2="120.65" y2="247.90" stroke="#2b2b2b" stroke-width="1.0" />
<line x1="119.05" y1="245.11" x2="120.65" y2="245.11" stroke="#2b2b2b" stroke-width="1.0" />
<line x1="119.05" y1="242.75" x2="120.65" y2="242.75" stroke="#2b2b2b" stroke-width="1.0" />
<line x1="119.05" y1="240.71" x2="120.65" y2="240.71" stroke="#2b2b2b" stroke-width="1.0" />
<line x1="119.05" y1="238.91" x2="120.65" y2="238.91" stroke="#2b2b2b" stroke-width="1.0" />
<line x1="119.05" y1="237.30" x2="121.85" y2="237.30" stroke="#2b2b2b" stroke-width="1.0" />
<line x1="119.05" y1="226.70" x2="120.65" y2="226.70" stroke="#2b2b2b" stroke-width="1.0" />
<line x1="119.05" y1="220.51" x2="120.65" y2="220.51" stroke="#2b2b2b" stroke-width="1.0" />
<line x1="119.05" y1="216.11" x2="120.65" y2="216.11" stroke="#2b2b2b" stroke-width="1.0" />
<line x1="119.05" y1="212.70" x2="120.65" y2="212.70" stroke="#2b2b2b" stroke-width="1.0" />
<line x1="119.05" y1="209.91" x2="120.65" y2="209.91" stroke="#2b2b2b" stroke-width="1.0" />
<line x1="119.05" y1="207.55" x2="120.65" y2="207.55" stroke="#2b2b2b" stroke-width="1.0" />
<line x1="119.05" y1="205.51" x2="120.65" y2="205.51" stroke="#2b2b2b" stroke-width="1.0" />
<line x1="119.05" y1="203.71" x2="120.65" y2="203.71" stroke="#2b2b2b" stroke-width="1.0" />
<line x1="119.05" y1="202.10" x2="121.85" y2="202.10" stroke="#2b2b2b" stroke-width="1.0" />
<line x1="119.05" y1="191.50" x2="120.65" y2="191.50" stroke="#2b2b2b" stroke-width="1.0" />
<line x1="119.05" y1="185.31" x2="120.65" y2="185.31" stroke="#2b2b2b" stroke-width="1.0" />
<text x="130.10" y="307.60" font-size="10" text-anchor="middle" fill="#111" >0.5</text>
<text x="152.36" y="307.60" font-size="10" text-anchor="middle" fill="#111" >0.6</text>
<text x="174.62" y="307.60" font-size="10" text-anchor="middle" fill="#111" >0.7</text>
<text x="196.88" y="307.60" font-size="10" text-anchor="middle" fill="#111" >0.8</text>
<text x="219.14" y="307.60" font-size="10" text-anchor="middle" fill="#111" >0.9</text>
<text x="241.40" y="307.60" font-size="10" text-anchor="middle" fill="#111" >1.0</text>
<text x="112.90" y="275.90" font-size="9.5" text-anchor="end" fill="#111">10</text>
<text x="113.60" y="270.90" font-size="5.6" text-anchor="start" fill="#111">1</text>
<text x="112.90" y="240.70" font-size="9.5" text-anchor="end" fill="#111">10</text>
<text x="113.60" y="235.70" font-size="5.6" text-anchor="start" fill="#111">2</text>
<text x="112.90" y="205.50" font-size="9.5" text-anchor="end" fill="#111">10</text>
<text x="113.60" y="200.50" font-size="5.6" text-anchor="start" fill="#111">3</text>
<text x="0.00" y="0.00" font-size="9.8" text-anchor="middle" fill="#111" textLength="29.3" lengthAdjust="spacingAndGlyphs" transform="translate(98.8,239.1) rotate(-90)">V (mL)</text>
<text x="185.30" y="320.60" font-size="9.8" text-anchor="middle" fill="#111" textLength="25.6" lengthAdjust="spacingAndGlyphs" >Purity</text>
<polyline points="139.30,283.40 142.43,282.58 146.70,281.50 151.80,280.21 157.41,278.77 163.20,277.25 168.86,275.71 174.06,274.20 178.50,272.80 182.33,271.43 185.93,270.01 189.29,268.57 192.41,267.13 195.28,265.74 197.91,264.41 200.28,263.19 202.40,262.10 204.17,261.16 205.54,260.34 206.61,259.63 207.46,258.98 208.17,258.38 208.83,257.80 209.51,257.22 210.30,256.60 211.13,255.99 211.89,255.42 212.61,254.88 213.31,254.34 214.01,253.79 214.74,253.19 215.53,252.54 216.40,251.80 217.39,250.94 218.49,249.96 219.66,248.91 220.85,247.83 222.02,246.75 223.14,245.73 224.14,244.79 225.00,244.00 225.69,243.36 226.26,242.83 226.72,242.39 227.12,242.00 227.49,241.64 227.85,241.27 228.25,240.87 228.70,240.40 229.21,239.90 229.74,239.42 230.28,238.93 230.82,238.43 231.37,237.88 231.90,237.27 232.41,236.58 232.90,235.80 233.36,234.91 233.82,233.92 234.26,232.86 234.68,231.74 235.09,230.57 235.48,229.38 235.85,228.19 236.20,227.00 236.52,225.82 236.82,224.63 237.10,223.43 237.36,222.20 237.60,220.95 237.84,219.67 238.07,218.35 238.30,217.00 238.53,215.58 238.76,214.09 238.98,212.56 239.19,211.00 239.39,209.44 239.58,207.91 239.75,206.42 239.90,205.00 240.03,203.65 240.15,202.36 240.25,201.10 240.33,199.88 240.41,198.66 240.47,197.45 240.54,196.24 240.60,195.00 240.66,193.68 240.71,192.27 240.75,190.81 240.79,189.38 240.83,188.02 240.86,186.80 240.88,185.77 240.90,185.00" fill="none" stroke="#1a1a1a" stroke-width="1.2" stroke-linejoin="round" stroke-linecap="round" />
<polyline points="139.30,283.40 160.00,280.60 180.00,277.50 205.00,274.60 218.30,272.40 230.00,268.30 236.30,266.30 241.40,262.30 241.50,255.50" fill="none" stroke="#fa9a3c" stroke-width="1.25" stroke-linejoin="round" stroke-linecap="round" />
<rect x="176.50" y="270.80" width="4.0" height="4.0" fill="#fff" stroke="#111" stroke-width="1.3"/>
<rect x="200.40" y="260.10" width="4.0" height="4.0" fill="#fff" stroke="#111" stroke-width="1.3"/>
<rect x="230.90" y="235.50" width="4.0" height="4.0" fill="#fff" stroke="#111" stroke-width="1.3"/>
<rect x="239.70" y="197.40" width="4.0" height="4.0" fill="#fff" stroke="#111" stroke-width="1.3"/>
<circle cx="139.30" cy="283.40" r="2.5" fill="#fff" stroke="#ff8c1a" stroke-width="1.3"/>
<circle cx="218.30" cy="272.40" r="2.5" fill="#fff" stroke="#ff8c1a" stroke-width="1.3"/>
<circle cx="236.30" cy="266.30" r="2.5" fill="#fff" stroke="#ff8c1a" stroke-width="1.3"/>
<circle cx="241.70" cy="261.70" r="2.5" fill="#fff" stroke="#ff8c1a" stroke-width="1.3"/>
<rect x="119.05" y="181.10" width="137.95" height="115.70" fill="none" stroke="#2b2b2b" stroke-width="1.25"/>
<text x="144.20" y="292.40" font-size="9.1" text-anchor="start" fill="#111" textLength="18" lengthAdjust="spacingAndGlyphs" >Flush</text>
<line x1="140.30" y1="293.50" x2="140.30" y2="288.56" stroke="#222" stroke-width="0.8" />
<path d="M139.15,289.00 L141.45,289.00 L140.30,286.80 Z" fill="#222"/>
<text x="216.00" y="286.90" font-size="9.1" text-anchor="middle" fill="#111" textLength="18" lengthAdjust="spacingAndGlyphs" >Flush</text>
<line x1="218.30" y1="280.00" x2="218.30" y2="276.66" stroke="#222" stroke-width="0.8" />
<path d="M217.15,277.10 L219.45,277.10 L218.30,274.90 Z" fill="#222"/>
<text x="235.50" y="284.40" font-size="9.1" text-anchor="middle" fill="#111" textLength="18.4" lengthAdjust="spacingAndGlyphs" >Flush</text>
<line x1="236.30" y1="277.00" x2="236.30" y2="273.06" stroke="#222" stroke-width="0.8" />
<path d="M235.15,273.50 L237.45,273.50 L236.30,271.30 Z" fill="#222"/>
<text x="246.80" y="277.80" font-size="9.1" text-anchor="middle" fill="#111" textLength="17.8" lengthAdjust="spacingAndGlyphs" >Flush</text>
<line x1="242.80" y1="269.50" x2="242.80" y2="267.66" stroke="#222" stroke-width="0.8" />
<path d="M241.65,268.10 L243.95,268.10 L242.80,265.90 Z" fill="#222"/>
<rect x="129.20" y="188.50" width="3.8" height="3.8" fill="#fff" stroke="#111" stroke-width="1.3"/>
<line x1="121.90" y1="199.60" x2="139.60" y2="199.60" stroke="#333" stroke-width="1.2" />
<circle cx="131.1" cy="209.5" r="2.5" fill="#fff" stroke="#ff8c1a" stroke-width="1.3"/>
<line x1="121.90" y1="219.10" x2="139.60" y2="219.10" stroke="#fa9f45" stroke-width="1.2" />
<text x="141.90" y="193.00" font-size="8.3" text-anchor="start" fill="#111" textLength="55.9" lengthAdjust="spacingAndGlyphs" >Single flush-exp</text>
<text x="141.90" y="202.60" font-size="8.3" text-anchor="start" fill="#111" textLength="64.9" lengthAdjust="spacingAndGlyphs" >Single flush-theory</text>
<text x="141.90" y="212.20" font-size="8.3" text-anchor="start" fill="#111" textLength="78.8" lengthAdjust="spacingAndGlyphs" >Multiple flush 5mL-exp</text>
<text x="141.90" y="221.60" font-size="8.3" text-anchor="start" fill="#111" textLength="87.8" lengthAdjust="spacingAndGlyphs" >Multiple flush 5mL-theory</text>
<text x="309.20" y="186.30" font-size="10.8" text-anchor="start" fill="#111" >e</text>
<line x1="352.13" y1="296.00" x2="352.13" y2="294.40" stroke="#2b2b2b" stroke-width="1.0" />
<line x1="364.66" y1="296.00" x2="364.66" y2="293.20" stroke="#2b2b2b" stroke-width="1.0" />
<line x1="377.19" y1="296.00" x2="377.19" y2="294.40" stroke="#2b2b2b" stroke-width="1.0" />
<line x1="389.72" y1="296.00" x2="389.72" y2="293.20" stroke="#2b2b2b" stroke-width="1.0" />
<line x1="402.25" y1="296.00" x2="402.25" y2="294.40" stroke="#2b2b2b" stroke-width="1.0" />
<line x1="414.78" y1="296.00" x2="414.78" y2="293.20" stroke="#2b2b2b" stroke-width="1.0" />
<line x1="427.31" y1="296.00" x2="427.31" y2="294.40" stroke="#2b2b2b" stroke-width="1.0" />
<line x1="439.84" y1="296.00" x2="439.84" y2="293.20" stroke="#2b2b2b" stroke-width="1.0" />
<line x1="452.37" y1="296.00" x2="452.37" y2="294.40" stroke="#2b2b2b" stroke-width="1.0" />
<line x1="464.90" y1="296.00" x2="464.90" y2="293.20" stroke="#2b2b2b" stroke-width="1.0" />
<line x1="340.00" y1="287.62" x2="341.60" y2="287.62" stroke="#2b2b2b" stroke-width="1.0" />
<line x1="340.00" y1="279.23" x2="342.80" y2="279.23" stroke="#2b2b2b" stroke-width="1.0" />
<line x1="340.00" y1="270.85" x2="341.60" y2="270.85" stroke="#2b2b2b" stroke-width="1.0" />
<line x1="340.00" y1="262.47" x2="342.80" y2="262.47" stroke="#2b2b2b" stroke-width="1.0" />
<line x1="340.00" y1="254.09" x2="341.60" y2="254.09" stroke="#2b2b2b" stroke-width="1.0" />
<line x1="340.00" y1="245.70" x2="342.80" y2="245.70" stroke="#2b2b2b" stroke-width="1.0" />
<line x1="340.00" y1="237.32" x2="341.60" y2="237.32" stroke="#2b2b2b" stroke-width="1.0" />
<line x1="340.00" y1="228.94" x2="342.80" y2="228.94" stroke="#2b2b2b" stroke-width="1.0" />
<line x1="340.00" y1="220.55" x2="341.60" y2="220.55" stroke="#2b2b2b" stroke-width="1.0" />
<line x1="340.00" y1="212.17" x2="342.80" y2="212.17" stroke="#2b2b2b" stroke-width="1.0" />
<line x1="340.00" y1="203.79" x2="341.60" y2="203.79" stroke="#2b2b2b" stroke-width="1.0" />
<line x1="340.00" y1="195.40" x2="342.80" y2="195.40" stroke="#2b2b2b" stroke-width="1.0" />
<line x1="340.00" y1="187.02" x2="341.60" y2="187.02" stroke="#2b2b2b" stroke-width="1.0" />
<text x="339.60" y="306.70" font-size="10" text-anchor="middle" fill="#111" >0.0</text>
<text x="364.66" y="306.70" font-size="10" text-anchor="middle" fill="#111" >0.2</text>
<text x="389.72" y="306.70" font-size="10" text-anchor="middle" fill="#111" >0.4</text>
<text x="414.78" y="306.70" font-size="10" text-anchor="middle" fill="#111" >0.6</text>
<text x="439.84" y="306.70" font-size="10" text-anchor="middle" fill="#111" >0.8</text>
<text x="464.90" y="306.70" font-size="10" text-anchor="middle" fill="#111" >1.0</text>
<text x="336.90" y="299.30" font-size="10" text-anchor="end" fill="#111" >0</text>
<text x="336.90" y="282.53" font-size="10" text-anchor="end" fill="#111" >2</text>
<text x="336.90" y="265.77" font-size="10" text-anchor="end" fill="#111" >4</text>
<text x="336.90" y="249.00" font-size="10" text-anchor="end" fill="#111" >6</text>
<text x="336.90" y="232.24" font-size="10" text-anchor="end" fill="#111" >8</text>
<text x="336.90" y="215.47" font-size="10" text-anchor="end" fill="#111" >10</text>
<text x="336.90" y="198.70" font-size="10" text-anchor="end" fill="#111" >12</text>
<text x="0.00" y="0.00" font-size="9.8" text-anchor="middle" fill="#111" textLength="33.2" lengthAdjust="spacingAndGlyphs" transform="translate(321.6,240.3) rotate(-90)">V (mL)</text>
<text x="408.30" y="319.90" font-size="9.8" text-anchor="middle" fill="#111" textLength="24.1" lengthAdjust="spacingAndGlyphs" >Purity</text>
<line x1="340.00" y1="195.10" x2="477.60" y2="195.10" stroke="#7a7a7a" stroke-width="1.1" stroke-dasharray="3.3,2.7"/>
<polyline points="360.50,293.50 446.30,195.10" fill="none" stroke="#111" stroke-width="1.1" stroke-linejoin="round" stroke-linecap="round" />
<polyline points="361.00,294.00 432.90,245.20 463.80,195.30" fill="none" stroke="#111" stroke-width="1.1" stroke-linejoin="round" stroke-linecap="round" />
<polyline points="361.00,294.50 426.90,271.00 459.80,245.70 465.10,220.10 464.60,195.50" fill="none" stroke="#111" stroke-width="1.1" stroke-linejoin="round" stroke-linecap="round" />
<rect x="444.40" y="193.20" width="3.8" height="3.8" fill="#fff" stroke="#111" stroke-width="1.25"/>
<path d="M430.40,247.36 L435.40,247.36 L432.90,243.03 Z" fill="#fff" stroke="#111" stroke-width="1.35" stroke-linejoin="miter"/>
<path d="M461.30,197.06 L466.30,197.06 L463.80,192.74 Z" fill="#fff" stroke="#111" stroke-width="1.35" stroke-linejoin="miter"/>
<circle cx="426.90" cy="271.00" r="2.5" fill="#fff" stroke="#111" stroke-width="1.2"/>
<circle cx="459.80" cy="245.70" r="2.5" fill="#fff" stroke="#111" stroke-width="1.2"/>
<circle cx="465.10" cy="220.10" r="2.5" fill="#fff" stroke="#111" stroke-width="1.2"/>
<circle cx="357.40" cy="295.60" r="2.5" fill="#fff" stroke="#111" stroke-width="1.4"/>
<path d="M355.6,293.2 L357.6,290.9 L359.6,293.2" fill="none" stroke="#111" stroke-width="1.1"/>
<rect x="340.00" y="180.00" width="137.60" height="116.00" fill="none" stroke="#2b2b2b" stroke-width="1.25"/>
<line x1="349.70" y1="205.80" x2="367.10" y2="205.80" stroke="#222" stroke-width="1.1" />
<line x1="349.70" y1="214.60" x2="367.10" y2="214.60" stroke="#222" stroke-width="1.1" />
<line x1="349.70" y1="224.40" x2="367.10" y2="224.40" stroke="#222" stroke-width="1.1" />
<circle cx="358.20" cy="205.80" r="2.5" fill="#fff" stroke="#111" stroke-width="1.2"/>
<path d="M355.70,216.56 L360.70,216.56 L358.20,212.24 Z" fill="#fff" stroke="#111" stroke-width="1.35" stroke-linejoin="miter"/>
<rect x="356.30" y="222.50" width="3.8" height="3.8" fill="#fff" stroke="#111" stroke-width="1.25"/>
<text x="368.90" y="208.60" font-size="8.3" text-anchor="start" fill="#111" textLength="15.1" lengthAdjust="spacingAndGlyphs" >3mL</text>
<text x="368.90" y="218.00" font-size="8.3" text-anchor="start" fill="#111" textLength="15.1" lengthAdjust="spacingAndGlyphs" >6mL</text>
<text x="369.30" y="227.50" font-size="8.3" text-anchor="start" fill="#111" textLength="19.2" lengthAdjust="spacingAndGlyphs" >12mL</text>
</g></svg>
</body></html>
